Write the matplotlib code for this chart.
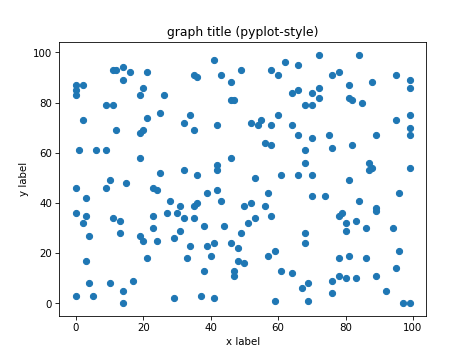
import numpy as np
import matplotlib
matplotlib.use("Agg")
import matplotlib.pyplot as plt

# points
x = np.array([
    0, 2, 0, 0, 9, 11, 2, 11, 12, 14, 16, 14, 21, 20, 19, 26, 25, 21, 12, 19, 20,
    41, 35, 36, 43, 49, 46, 58, 60, 62, 66, 64, 66, 46, 47, 34, 32, 35, 42, 52,
    54, 55, 58, 60, 64, 66, 68,
    72, 84, 76, 78, 81, 88, 95, 99, 99, 70, 72, 72, 70, 81, 82, 85, 95, 99, 99,
    1, 6, 9, 19, 25, 10, 15, 0, 9, 23, 24, 3, 28, 0, 3, 11, 13, 23, 27, 30,
    56, 58, 46, 42, 42, 32, 36, 53, 61, 66, 39, 42, 43, 57, 31, 35, 36, 32, 35,
    50, 52, 56, 53, 58,
    70, 75, 89, 99, 68, 76, 82, 68, 70, 87, 88, 87, 99, 81, 70, 74, 96, 84, 89,
    89, 78, 79, 80, 83,
    2, 23, 4, 13, 19, 20, 24, 29, 21, 3, 4, 10, 17, 0, 5, 14, 14, 29,
    38, 44, 51, 31, 49, 34, 39, 41, 46, 48, 40, 33, 48, 50, 57, 59, 38, 47, 47,
    61, 64, 37, 41, 59,
    80, 68, 68, 86, 94, 96, 78, 81, 86, 95, 67, 69, 76, 78, 80, 83, 89, 92, 76,
    69, 97, 99,
])
y = np.array([
    87, 87, 85, 83, 79, 79, 73, 93, 93, 94, 92, 89, 92, 86, 83, 83, 76, 74, 69, 68, 69,
    97, 91, 90, 91, 93, 88, 93, 91, 96, 95, 84, 85, 81, 81, 75, 72, 69, 71, 72,
    71, 73, 71, 75, 71, 67, 79,
    99, 99, 91, 92, 87, 88, 91, 89, 86, 84, 86, 82, 79, 82, 81, 80, 73, 75, 70,
    61, 61, 61, 58, 52, 49, 48, 46, 46, 46, 45, 42, 41, 36, 35, 34, 33, 35, 36, 36,
    64, 63, 58, 55, 53, 53, 51, 50, 51, 51, 44, 45, 41, 44, 39, 39, 40, 34, 34,
    39, 40, 39, 34, 35,
    66, 67, 67, 67, 61, 62, 63, 56, 51, 56, 54, 53, 54, 49, 43, 43, 44, 41, 38,
    37, 35, 36, 32, 33,
    32, 30, 27, 28, 27, 25, 25, 26, 18, 17, 8, 8, 9, 3, 3, 5, 0, 2,
    31, 31, 32, 29, 28, 23, 23, 24, 24, 22, 19, 18, 17, 16, 19, 21, 13, 13, 11,
    13, 12, 3, 2, 1,
    29, 28, 24, 30, 30, 21, 18, 19, 18, 14, 6, 8, 9, 11, 10, 10, 11, 5, 4,
    1, 0, 0,
])

fig = plt.figure(figsize=(6.4, 4.8), dpi=74)
plt.scatter(x, y)
plt.title("graph title (pyplot-style)")
plt.xlabel("x label")
plt.ylabel("y label")
plt.savefig("out.png")
